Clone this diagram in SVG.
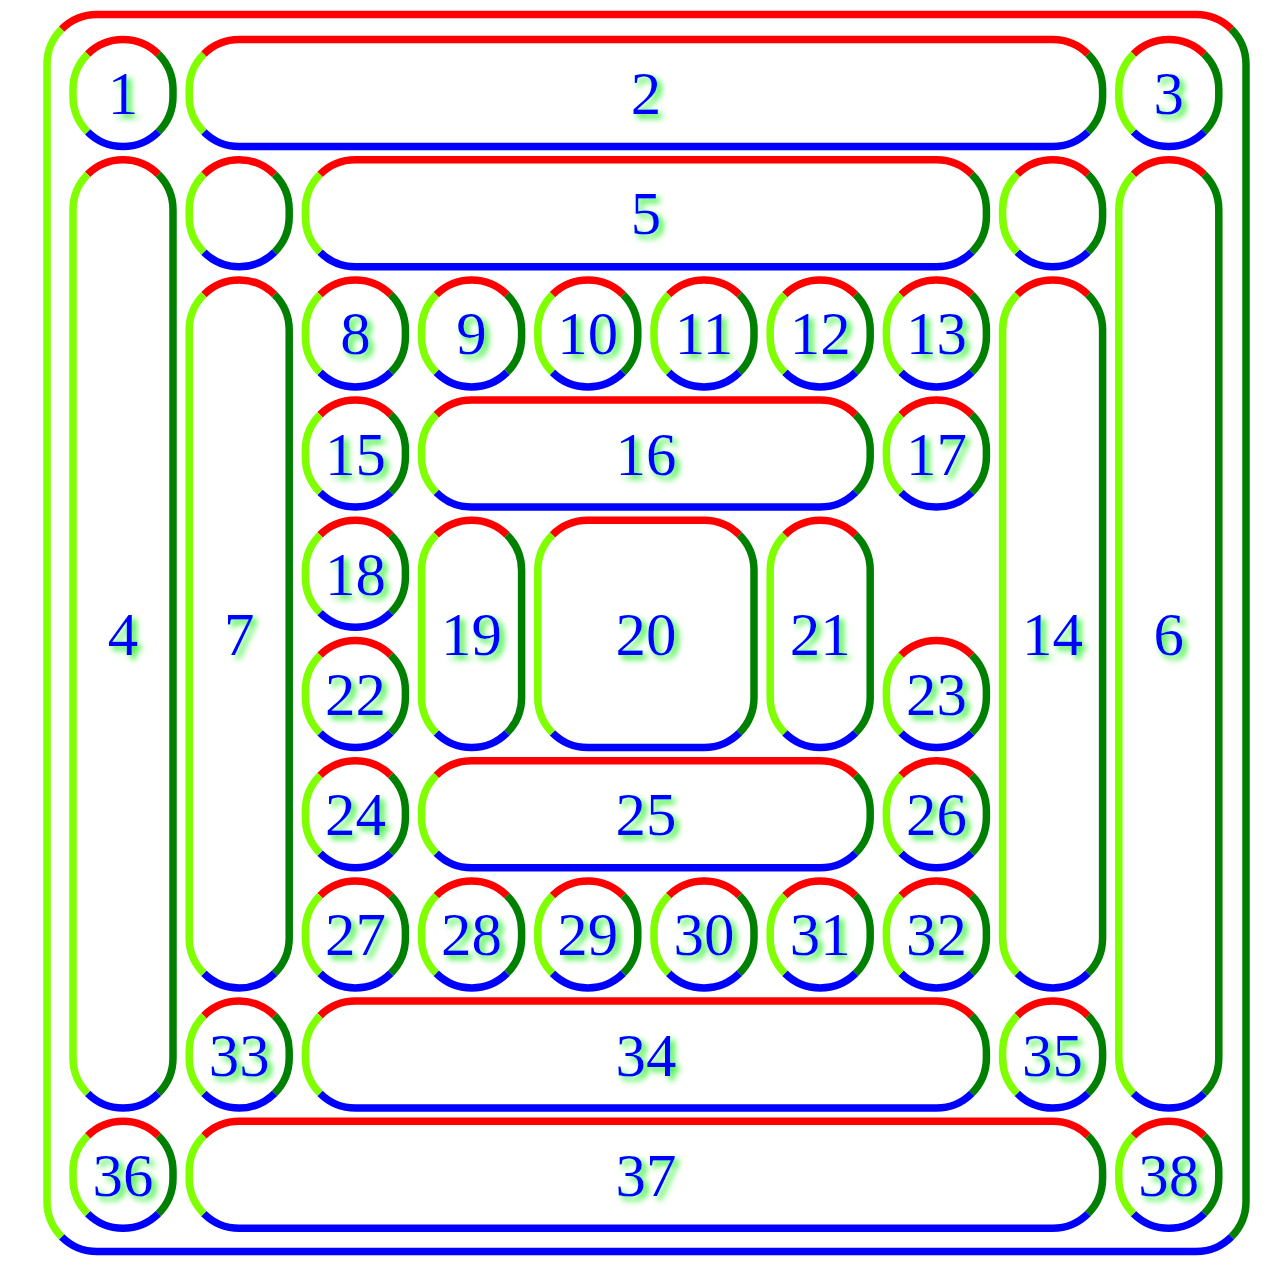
<svg xmlns="http://www.w3.org/2000/svg" xmlns:xlink="http://www.w3.org/1999/xlink" width="1280" height="1280" viewBox="0 0 1280 1280">
<style>
path{fill:none;stroke-width:7.5}
.t{stroke:#ff0000}
.r{stroke:#008000}
.b{stroke:#0000ff}
.l{stroke:#7fff00}
text{font-family:"Liberation Serif","Times New Roman",serif;font-size:61px;fill:#0000ff;text-anchor:middle;filter:url(#glow)}
</style>
<defs>
<filter id="glow" x="-30%" y="-30%" width="160%" height="160%">
<feDropShadow dx="4" dy="4" stdDeviation="3" flood-color="#11ee11" flood-opacity="0.9"/>
</filter>
<g id="c">
<path class="t" d="M14.645,14.645a50,50 0 0 1 35.355,-14.645h0a50,50 0 0 1 35.355,14.645"/>
<path class="r" d="M85.355,14.645a50,50 0 0 1 14.645,35.355v7a50,50 0 0 1 -14.645,35.355"/>
<path class="b" d="M85.355,92.355a50,50 0 0 1 -35.355,14.645h0a50,50 0 0 1 -35.355,-14.645"/>
<path class="l" d="M14.645,92.355a50,50 0 0 1 -14.645,-35.355v-7a50,50 0 0 1 14.645,-35.355"/>
</g>
<g id="h8">
<path class="t" d="M14.645,14.645a50,50 0 0 1 35.355,-14.645h813.4a50,50 0 0 1 35.355,14.645"/>
<path class="r" d="M898.755,14.645a50,50 0 0 1 14.645,35.355v7a50,50 0 0 1 -14.645,35.355"/>
<path class="b" d="M898.755,92.355a50,50 0 0 1 -35.355,14.645h-813.4a50,50 0 0 1 -35.355,-14.645"/>
<path class="l" d="M14.645,92.355a50,50 0 0 1 -14.645,-35.355v-7a50,50 0 0 1 14.645,-35.355"/>
</g>
<g id="h6">
<path class="t" d="M14.645,14.645a50,50 0 0 1 35.355,-14.645h581a50,50 0 0 1 35.355,14.645"/>
<path class="r" d="M666.355,14.645a50,50 0 0 1 14.645,35.355v7a50,50 0 0 1 -14.645,35.355"/>
<path class="b" d="M666.355,92.355a50,50 0 0 1 -35.355,14.645h-581a50,50 0 0 1 -35.355,-14.645"/>
<path class="l" d="M14.645,92.355a50,50 0 0 1 -14.645,-35.355v-7a50,50 0 0 1 14.645,-35.355"/>
</g>
<g id="h4">
<path class="t" d="M14.645,14.645a50,50 0 0 1 35.355,-14.645h348.6a50,50 0 0 1 35.355,14.645"/>
<path class="r" d="M433.955,14.645a50,50 0 0 1 14.645,35.355v7a50,50 0 0 1 -14.645,35.355"/>
<path class="b" d="M433.955,92.355a50,50 0 0 1 -35.355,14.645h-348.6a50,50 0 0 1 -35.355,-14.645"/>
<path class="l" d="M14.645,92.355a50,50 0 0 1 -14.645,-35.355v-7a50,50 0 0 1 14.645,-35.355"/>
</g>
<g id="v8">
<path class="t" d="M14.645,14.645a50,50 0 0 1 35.355,-14.645h0a50,50 0 0 1 35.355,14.645"/>
<path class="r" d="M85.355,14.645a50,50 0 0 1 14.645,35.355v848.4a50,50 0 0 1 -14.645,35.355"/>
<path class="b" d="M85.355,933.755a50,50 0 0 1 -35.355,14.645h0a50,50 0 0 1 -35.355,-14.645"/>
<path class="l" d="M14.645,933.755a50,50 0 0 1 -14.645,-35.355v-848.4a50,50 0 0 1 14.645,-35.355"/>
</g>
<g id="v6">
<path class="t" d="M14.645,14.645a50,50 0 0 1 35.355,-14.645h0a50,50 0 0 1 35.355,14.645"/>
<path class="r" d="M85.355,14.645a50,50 0 0 1 14.645,35.355v608a50,50 0 0 1 -14.645,35.355"/>
<path class="b" d="M85.355,693.355a50,50 0 0 1 -35.355,14.645h0a50,50 0 0 1 -35.355,-14.645"/>
<path class="l" d="M14.645,693.355a50,50 0 0 1 -14.645,-35.355v-608a50,50 0 0 1 14.645,-35.355"/>
</g>
<g id="v2">
<path class="t" d="M14.645,14.645a50,50 0 0 1 35.355,-14.645h0a50,50 0 0 1 35.355,14.645"/>
<path class="r" d="M85.355,14.645a50,50 0 0 1 14.645,35.355v127.2a50,50 0 0 1 -14.645,35.355"/>
<path class="b" d="M85.355,212.555a50,50 0 0 1 -35.355,14.645h0a50,50 0 0 1 -35.355,-14.645"/>
<path class="l" d="M14.645,212.555a50,50 0 0 1 -14.645,-35.355v-127.2a50,50 0 0 1 14.645,-35.355"/>
</g>
<g id="sq">
<path class="t" d="M14.645,14.645a50,50 0 0 1 35.355,-14.645h116.2a50,50 0 0 1 35.355,14.645"/>
<path class="r" d="M201.555,14.645a50,50 0 0 1 14.645,35.355v127.2a50,50 0 0 1 -14.645,35.355"/>
<path class="b" d="M201.555,212.555a50,50 0 0 1 -35.355,14.645h-116.2a50,50 0 0 1 -35.355,-14.645"/>
<path class="l" d="M14.645,212.555a50,50 0 0 1 -14.645,-35.355v-127.2a50,50 0 0 1 14.645,-35.355"/>
</g>
</defs>
<rect width="1280" height="1280" fill="#ffffff"/>
<g id="container" transform="translate(47,14.5)">
<path class="t" d="M14.645,14.645a50,50 0 0 1 35.355,-14.645h1099a50,50 0 0 1 35.355,14.645"/>
<path class="r" d="M1184.355,14.645a50,50 0 0 1 14.645,35.355v1137a50,50 0 0 1 -14.645,35.355"/>
<path class="b" d="M1184.355,1222.355a50,50 0 0 1 -35.355,14.645h-1099a50,50 0 0 1 -35.355,-14.645"/>
<path class="l" d="M14.645,1222.355a50,50 0 0 1 -14.645,-35.355v-1137a50,50 0 0 1 14.645,-35.355"/>
</g>
<g id="n1"><use href="#c" x="73" y="39.5"/><text x="123" y="114">1</text></g>
<g id="n2"><use href="#h8" x="189.2" y="39.5"/><text x="645.9" y="114">2</text></g>
<g id="n3"><use href="#c" x="1118.8" y="39.5"/><text x="1168.8" y="114">3</text></g>
<g id="n4"><use href="#v8" x="73" y="159.7"/><text x="123" y="654.9">4</text></g>
<g id="n-blank-a"><use href="#c" x="189.2" y="159.7"/></g>
<g id="n5"><use href="#h6" x="305.4" y="159.7"/><text x="645.9" y="234.2">5</text></g>
<g id="n-blank-b"><use href="#c" x="1002.6" y="159.7"/></g>
<g id="n6"><use href="#v8" x="1118.8" y="159.7"/><text x="1168.8" y="654.9">6</text></g>
<g id="n7"><use href="#v6" x="189.2" y="279.9"/><text x="239.2" y="654.9">7</text></g>
<g id="n8"><use href="#c" x="305.4" y="279.9"/><text x="355.4" y="354.4">8</text></g>
<g id="n9"><use href="#c" x="421.6" y="279.9"/><text x="471.6" y="354.4">9</text></g>
<g id="n10"><use href="#c" x="537.8" y="279.9"/><text x="587.8" y="354.4">10</text></g>
<g id="n11"><use href="#c" x="654" y="279.9"/><text x="704" y="354.4">11</text></g>
<g id="n12"><use href="#c" x="770.2" y="279.9"/><text x="820.2" y="354.4">12</text></g>
<g id="n13"><use href="#c" x="886.4" y="279.9"/><text x="936.4" y="354.4">13</text></g>
<g id="n14"><use href="#v6" x="1002.6" y="279.9"/><text x="1052.6" y="654.9">14</text></g>
<g id="n15"><use href="#c" x="305.4" y="400.1"/><text x="355.4" y="474.6">15</text></g>
<g id="n16"><use href="#h4" x="421.6" y="400.1"/><text x="645.9" y="474.6">16</text></g>
<g id="n17"><use href="#c" x="886.4" y="400.1"/><text x="936.4" y="474.6">17</text></g>
<g id="n18"><use href="#c" x="305.4" y="520.3"/><text x="355.4" y="594.8">18</text></g>
<g id="n19"><use href="#v2" x="421.6" y="520.3"/><text x="471.6" y="654.9">19</text></g>
<g id="n20"><use href="#sq" x="537.8" y="520.3"/><text x="645.9" y="654.9">20</text></g>
<g id="n21"><use href="#v2" x="770.2" y="520.3"/><text x="820.2" y="654.9">21</text></g>
<g id="n22"><use href="#c" x="305.4" y="640.5"/><text x="355.4" y="715">22</text></g>
<g id="n23"><use href="#c" x="886.4" y="640.5"/><text x="936.4" y="715">23</text></g>
<g id="n24"><use href="#c" x="305.4" y="760.7"/><text x="355.4" y="835.2">24</text></g>
<g id="n25"><use href="#h4" x="421.6" y="760.7"/><text x="645.9" y="835.2">25</text></g>
<g id="n26"><use href="#c" x="886.4" y="760.7"/><text x="936.4" y="835.2">26</text></g>
<g id="n27"><use href="#c" x="305.4" y="880.9"/><text x="355.4" y="955.4">27</text></g>
<g id="n28"><use href="#c" x="421.6" y="880.9"/><text x="471.6" y="955.4">28</text></g>
<g id="n29"><use href="#c" x="537.8" y="880.9"/><text x="587.8" y="955.4">29</text></g>
<g id="n30"><use href="#c" x="654" y="880.9"/><text x="704" y="955.4">30</text></g>
<g id="n31"><use href="#c" x="770.2" y="880.9"/><text x="820.2" y="955.4">31</text></g>
<g id="n32"><use href="#c" x="886.4" y="880.9"/><text x="936.4" y="955.4">32</text></g>
<g id="n33"><use href="#c" x="189.2" y="1001.1"/><text x="239.2" y="1075.6">33</text></g>
<g id="n34"><use href="#h6" x="305.4" y="1001.1"/><text x="645.9" y="1075.6">34</text></g>
<g id="n35"><use href="#c" x="1002.6" y="1001.1"/><text x="1052.6" y="1075.6">35</text></g>
<g id="n36"><use href="#c" x="73" y="1121.3"/><text x="123" y="1195.8">36</text></g>
<g id="n37"><use href="#h8" x="189.2" y="1121.3"/><text x="645.9" y="1195.8">37</text></g>
<g id="n38"><use href="#c" x="1118.8" y="1121.3"/><text x="1168.8" y="1195.8">38</text></g>
</svg>
